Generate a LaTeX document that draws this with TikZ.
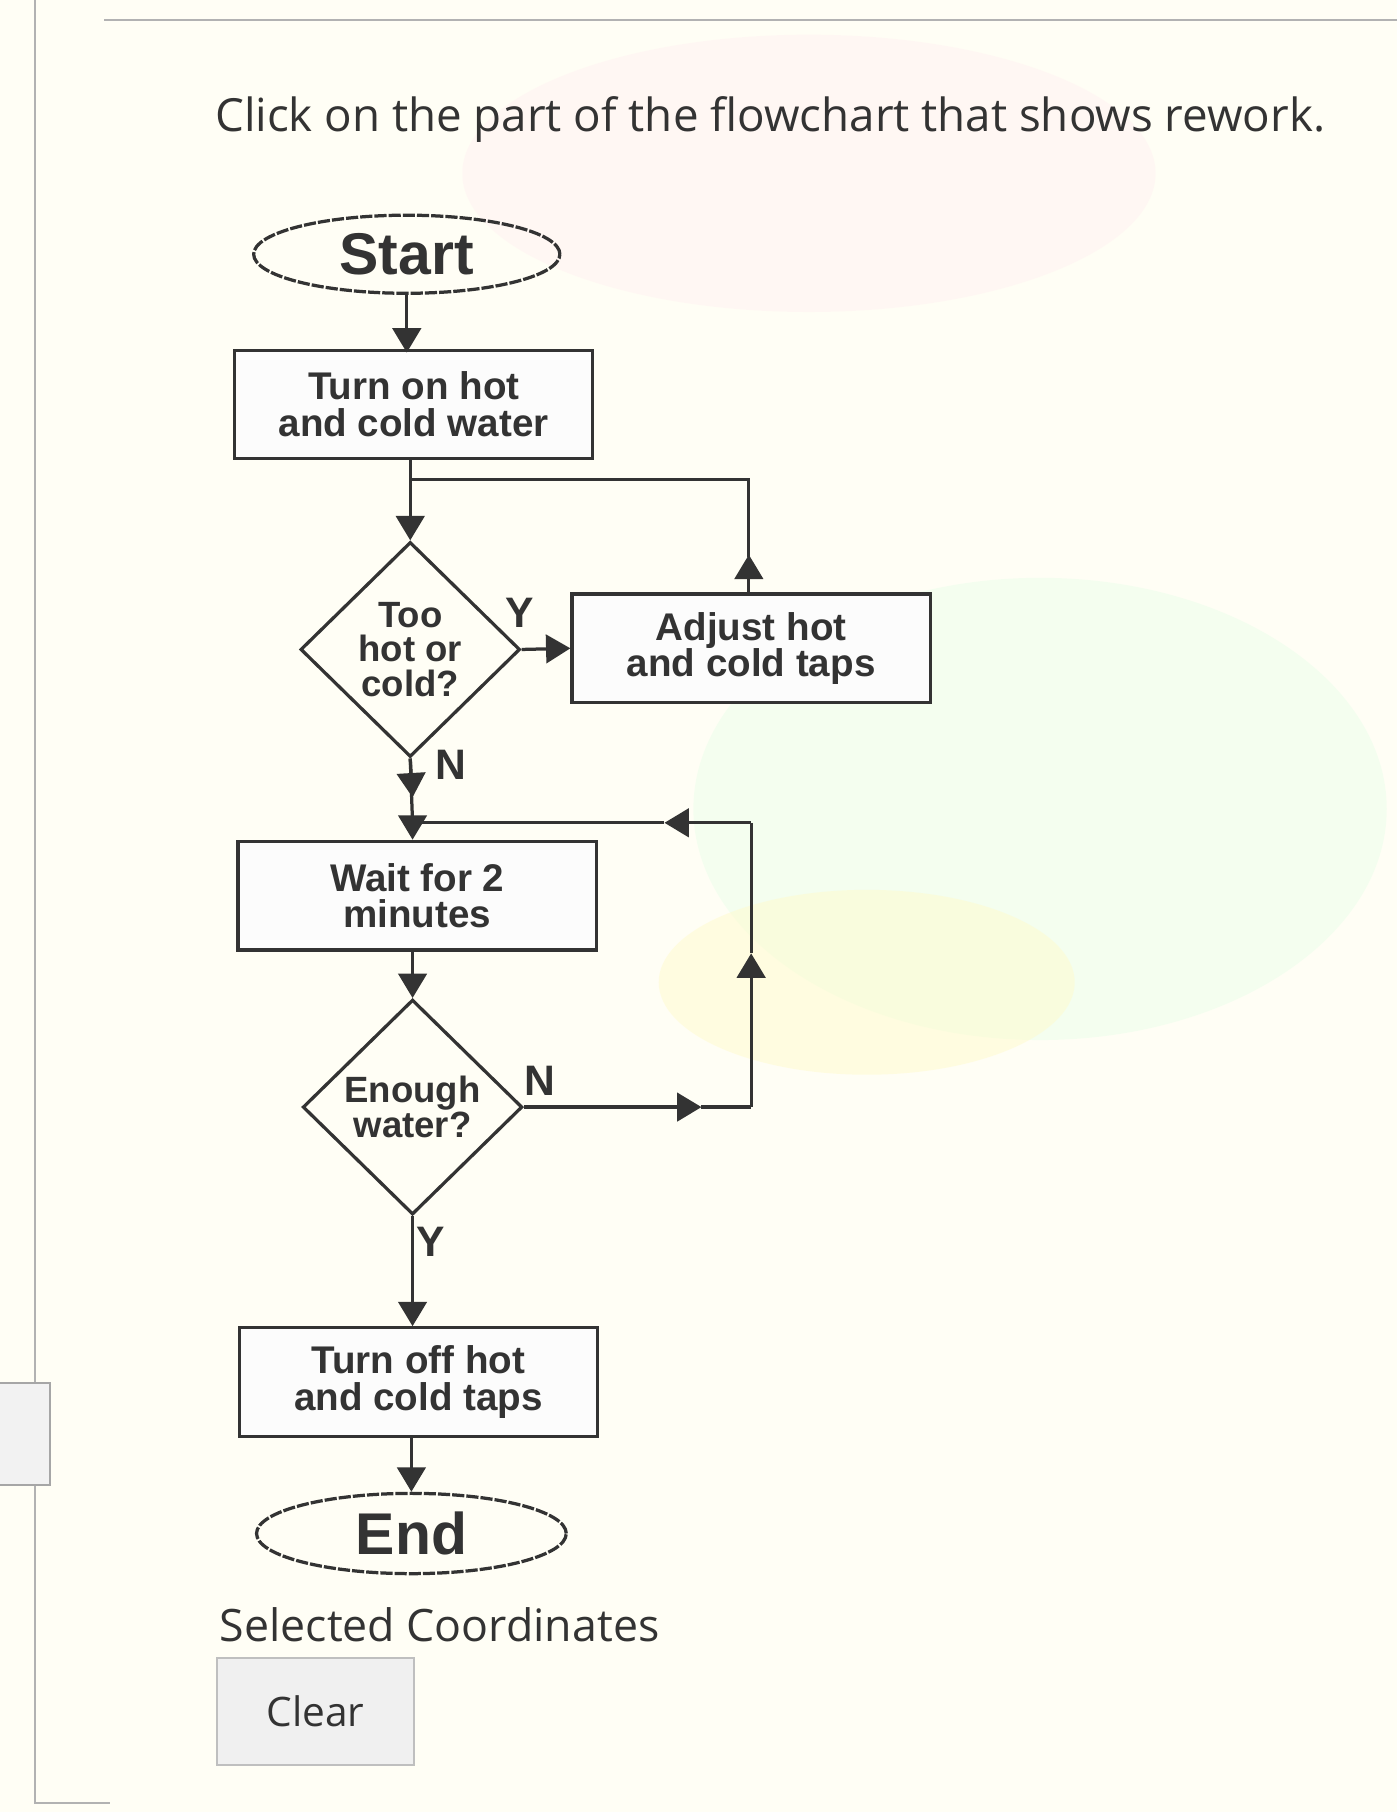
\documentclass[tikz,border=0pt]{standalone}
\usepackage{fontspec}
\setmainfont{Liberation Sans}
\newfontfamily\uifont{Open Sans}
\usetikzlibrary{shapes.geometric,arrows.meta}
\begin{document}
\begin{tikzpicture}[x=0.02cm,y=-0.02cm,
  box/.style={draw=black!80,line width=1.6pt,fill=white!80!gray!10,minimum width=310*0.02cm,minimum height=94*0.02cm,align=center,font=\fontsize{19}{18}\selectfont\bfseries,text=black!80},
  dia/.style={draw=black!80,line width=1.6pt,diamond,aspect=1,minimum width=190*0.02cm,minimum height=186*0.02cm,inner sep=0pt,align=center,font=\fontsize{18}{17}\selectfont\bfseries,text=black!80},
  term/.style={draw=black!80,line width=1.6pt,dashed,dash pattern=on 6pt off 1pt,ellipse,minimum width=265*0.02cm,minimum height=62*0.02cm,font=\fontsize{29}{30}\selectfont\bfseries,text=black!80},
  ln/.style={draw=black!80,line width=1.6pt},
  ar/.style={ln,-{Triangle[length=12pt,width=14pt]}},
  lab/.style={font=\fontsize{21}{21}\selectfont\bfseries,text=black!80}]
\useasboundingbox[fill=violet!6!yellow!4!white] (0,0) rectangle (1209,1568);
\fill[pink!20,opacity=0.5] (700,150) ellipse (300 and 120);
\fill[green!8,opacity=0.5] (900,700) ellipse (300 and 200);
\fill[yellow!20,opacity=0.5] (750,850) ellipse (180 and 80);
\draw[gray!60,line width=1pt] (90,17) -- (1209,17);
\draw[gray!60,line width=1pt] (30,0) -- (30,1560) -- (95,1560);
\draw[gray!70,line width=1pt,fill=white!90!gray] (-5,1197) rectangle (43,1285);
\node[anchor=west,font=\uifont\fontsize{22.5}{23}\selectfont,text=black!80] (title) at (180,103) {Click on the part of the flowchart that shows rework.};
\node[term] (start) at (352,220) {Start};
\node[box] (b1) at (358,350) {Turn on hot\\and cold water};
\node[dia] (d1) at (355,562) {Too\\hot or\\cold?};
\node[box] (adj) at (650,561) {Adjust hot\\and cold taps};
\node[box] (b2) at (361,775) {Wait for 2\\minutes};
\node[dia] (d2) at (357,958) {Enough\\water?};
\node[box] (b3) at (362,1196) {Turn off hot\\and cold taps};
\node[term,minimum width=268*0.02cm,minimum height=64*0.02cm] (end) at (356,1327) {End};
\coordinate (m1) at (355,415);
\coordinate (c1) at (648,415);
\coordinate (m2) at (357,712);
\coordinate (c2) at (650,712);
\coordinate (c3) at (650,958);
\draw[ar] (start.south) -- ([yshift=-2]b1.north -| start.south);
\draw[ln] (b1.south -| m1) -- (m1);
\draw[ar] (m1) -- (d1.north);
\draw[ar] (adj.north -| c1) -- (648,480);
\draw[ln] (648,482) -- (c1) -- (m1);
\draw[ar] (d1.east) -- (adj.west);
\node[lab] (ly) at (450,530) {Y};
\draw[ln] (d1.south) -- (m2);
\draw[ar] (d1.south) -- (357,690);
\draw[ar] (m2) -- (b2.north -| m2);
\node[lab] (ln1) at (390,662) {N};
\draw[ar] (c2) -- (575,712);
\draw[ln] (575,712) -- (m2);
\draw[ar] (b2.south -| d2.north) -- (d2.north);
\draw[ar] (d2.east) -- (607,958);
\draw[ln] (607,958) -- (c3);
\draw[ar] (c3) -- (650,825);
\draw[ln] (650,825) -- (c2);
\node[lab] (ln2) at (467,935) {N};
\draw[ar] (d2.south) -- (b3.north -| d2.south);
\node[lab] (ly2) at (373,1075) {Y};
\draw[ar] (b3.south -| end.north) -- (end.north);
\node[anchor=west,font=\uifont\fontsize{22}{22}\selectfont,text=black!80] (sel) at (184,1406) {Selected Coordinates};
\node[draw=gray!50,line width=1pt,fill=gray!12,minimum width=170*0.02cm,minimum height=93*0.02cm,font=\uifont\fontsize{20}{20}\selectfont,text=black!80] (clear) at (273,1481) {Clear};
\end{tikzpicture}
\end{document}
